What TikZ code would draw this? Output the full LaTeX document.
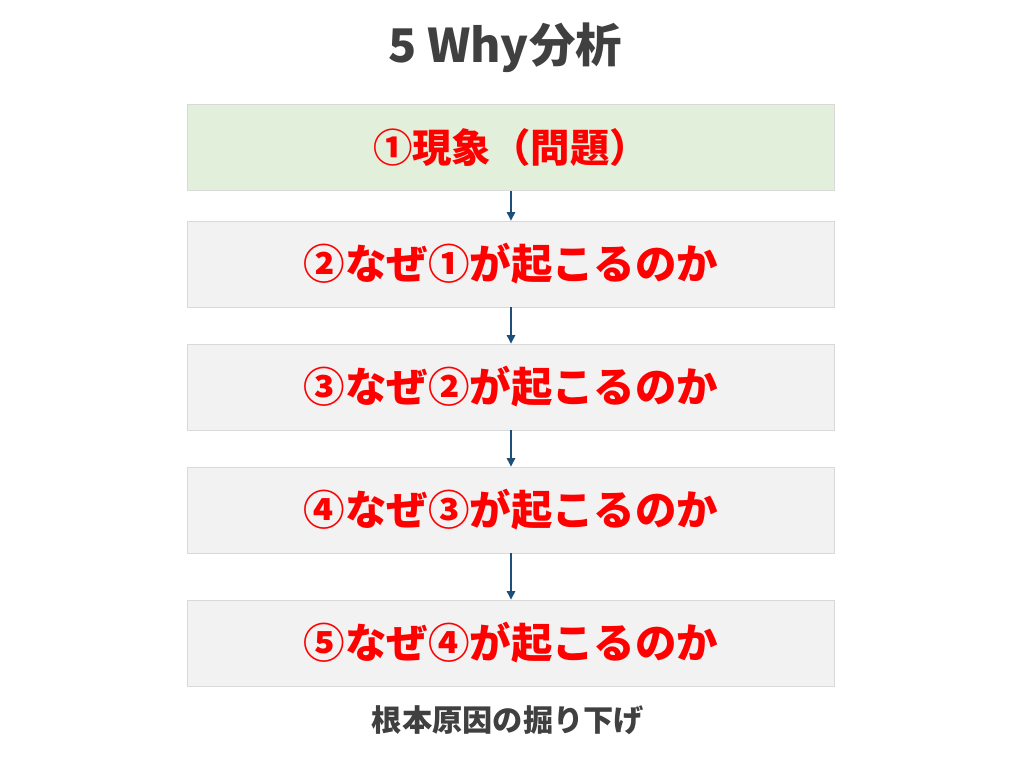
\documentclass[tikz,border=0pt]{standalone}
\usepackage{fontspec}
\setmainfont{Noto Sans CJK JP}
\usetikzlibrary{arrows.meta}

\definecolor{boxgray}{HTML}{F2F2F2}
\definecolor{boxgreen}{HTML}{E2EFDA}
\definecolor{edgegray}{HTML}{D9D9D9}
\definecolor{arrowblue}{HTML}{1F4E79}
\definecolor{textgray}{HTML}{404040}

\begin{document}
\begin{tikzpicture}[x=0.025cm, y=-0.025cm]
\useasboundingbox (0,0) rectangle (1024,763);

\tikzset{WhyStyle/.style = {
 draw = edgegray,
 fill = boxgray,
 line width = 0.6pt,
 text = red,
 font = \fontsize{29.5}{32}\selectfont\bfseries,
 minimum width = 16.15cm,
 minimum height = 2.15cm,
 inner sep = 0pt} }

\node (Title) at (505, 48) {\color{textgray}\fontsize{33}{36}\selectfont\bfseries 5 Why分析};

\node[WhyStyle, fill=boxgreen, font=\fontsize{28}{30}\selectfont\bfseries] (W1) at (511, 147.5) {①現象（問題）};
\node[WhyStyle] (W2) at (511, 264) {②なぜ①が起こるのか};
\node[WhyStyle] (W3) at (511, 387) {③なぜ②が起こるのか};
\node[WhyStyle] (W4) at (511, 510) {④なぜ③が起こるのか};
\node[WhyStyle] (W5) at (511, 643) {⑤なぜ④が起こるのか};

\node (Root) at (508, 720) {\color{textgray}\fontsize{21.5}{24}\selectfont\bfseries 根本原因の掘り下げ};

\tikzset{ArrowStyle/.style = {arrowblue, line width=0.8pt, -{Triangle[length=6pt, width=6pt]}} }

\draw[ArrowStyle] (W1) -- (W2);
\draw[ArrowStyle] (W2) -- (W3);
\draw[ArrowStyle] (W3) -- (W4);
\draw[ArrowStyle] (W4) -- (W5);

\end{tikzpicture}
\end{document}
